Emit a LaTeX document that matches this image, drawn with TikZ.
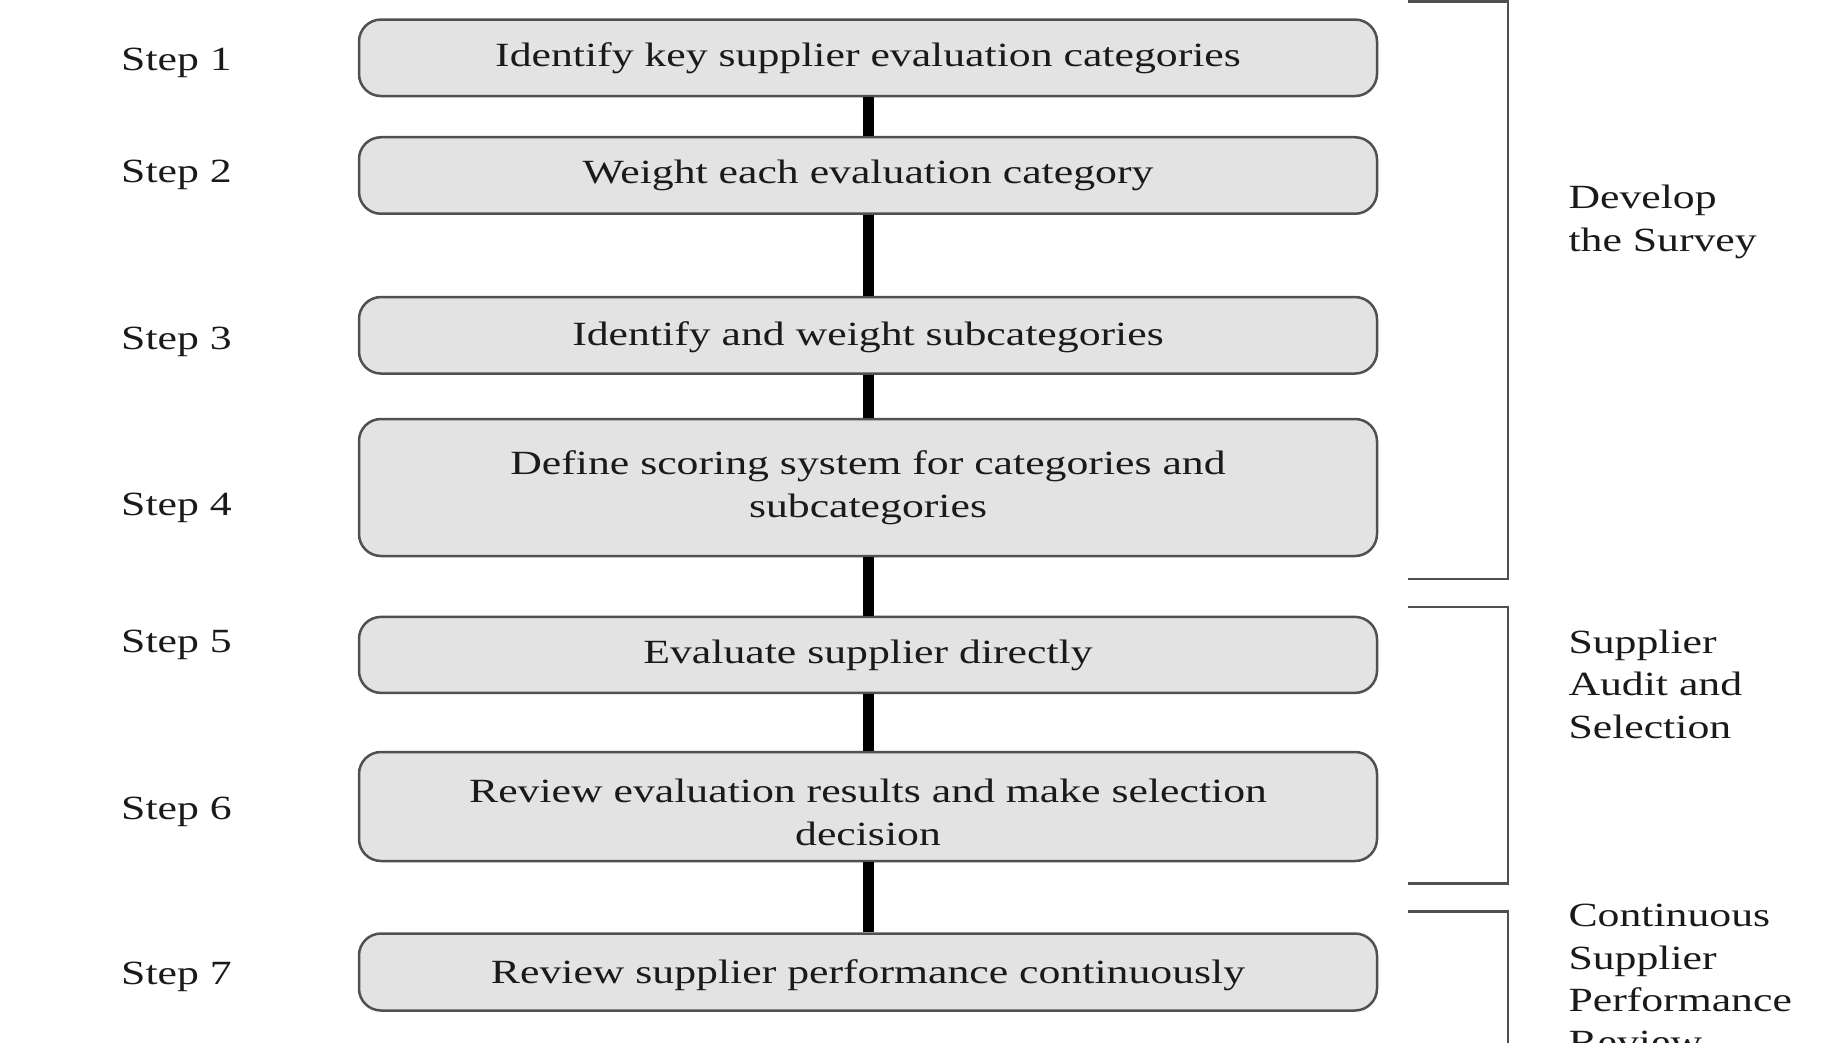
\documentclass[tikz,border=0pt]{standalone}
\usepackage{fontspec}
\setmainfont{Liberation Serif}
\usepackage{graphicx}
\usetikzlibrary{positioning}
\definecolor{boxgray}{HTML}{E3E3E3}
\definecolor{edgegray}{HTML}{505050}
\definecolor{inkblack}{HTML}{1A1A1A}
\newcommand{\wide}[1]{\scalebox{1.29}[1]{#1}}
\newcommand{\widecol}[2]{\scalebox{1.29}[1]{\begin{tabular}[t]{@{}#1@{}}#2\end{tabular}}}
\tikzset{
  stepbox/.style={draw=edgegray, line width=2.5pt, fill=boxgray, rounded corners=22pt,
    minimum width=1018pt, inner sep=0pt, text=inkblack},
  steplabel/.style={anchor=base west, inner sep=0pt, text=inkblack},
  link/.style={line width=11pt, black},
  bracket/.style={draw=edgegray, line width=2.7pt},
}

\begin{document}
\begin{tikzpicture}[x=1pt, y=-1pt, font=\fontsize{33.9}{42.4}\selectfont]

\useasboundingbox (0,0) rectangle (1823,1043);
\clip (0,0) rectangle (1823,1043);

% the seven steps
\node[stepbox, minimum height=76.5pt] (b1) at (868,57.8) {\widecol{c}{Identify key supplier evaluation categories}};
\node[stepbox, minimum height=76.5pt] (b2) at (868,175.5) {\widecol{c}{Weight each evaluation category}};
\node[stepbox, minimum height=76.5pt] (b3) at (868,335.3) {\raisebox{-2pt}[\height][\depth]{\widecol{c}{Identify and weight subcategories}}};
\node[stepbox, minimum height=137pt] (b4) at (868,487.5) {\widecol{c}{Define scoring system for categories and\\subcategories}};
\node[stepbox, minimum height=76pt] (b5) at (868,654.9) {\widecol{c}{Evaluate supplier directly}};
\node[stepbox, minimum height=109pt] (b6) at (868,806.5) {\raisebox{-9pt}[\height][\depth]{\widecol{c}{Review evaluation results and make selection\\decision}}};
\node[stepbox, minimum height=77pt] (b7) at (868,972) {\raisebox{-3pt}[\height][\depth]{\widecol{c}{Review supplier performance continuously}}};

\draw[link] (b1) -- (b2);
\draw[link] (b2) -- (b3);
\draw[link] (b3) -- (b4);
\draw[link] (b4) -- (b5);
\draw[link] (b5) -- (b6);
\draw[link] (b6) -- (b7);

% step numbers
\node[steplabel] (s1) at (121,70.7) {\wide{Step 1}};
\node[steplabel] (s2) at (121,183) {\wide{Step 2}};
\node[steplabel] (s3) at (121,349) {\wide{Step 3}};
\node[steplabel] (s4) at (121,515) {\wide{Step 4}};
\node[steplabel] (s5) at (121,652.6) {\wide{Step 5}};
\node[steplabel] (s6) at (121,819) {\wide{Step 6}};
\node[steplabel] (s7) at (121,984) {\wide{Step 7}};

% phases
\draw[bracket] (1408,1.5) -| (1508,579) -- (1408,579);
\draw[bracket] (1408,607) -| (1508,883.6) -- (1408,883.6);
\draw[bracket] (1408,911.5) -| (1508,1060);

\node[steplabel] (develop) at (1568.3,208.7) {\widecol{l}{Develop\\the Survey}};
\node[steplabel] (audit) at (1568.3,653.3) {\widecol{l}{Supplier\\Audit and\\Selection}};
\node[steplabel] (review) at (1568.3,926.7) {\widecol{l}{Continuous\\Supplier\\Performance\\Review}};

\end{tikzpicture}
\end{document}
